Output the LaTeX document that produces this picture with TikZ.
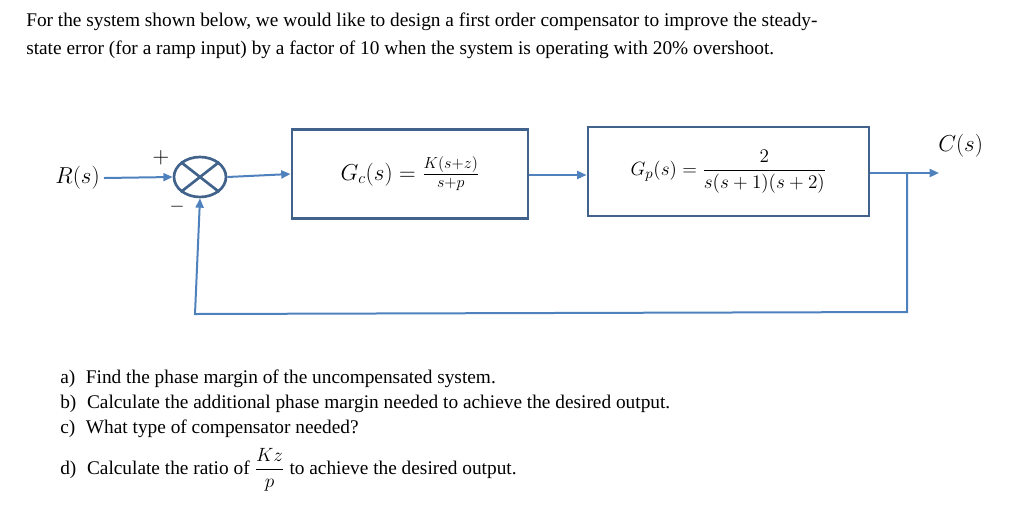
\documentclass[tikz,border=0pt]{standalone}
\usepackage{amsmath}
\usepackage{fontspec}
\setmainfont{Liberation Serif}
\usetikzlibrary{arrows.meta,shapes.geometric}
\definecolor{boxc}{HTML}{41628A}
\definecolor{linec}{HTML}{4F81BD}
\begin{document}
\begin{tikzpicture}[x=0.75pt,y=-0.75pt,
  blk/.style={draw=boxc,line width=2.2pt,inner sep=0pt},
  wire/.style={draw=linec,line width=1.5pt},
  arr/.style={wire,-{Triangle[length=7pt,width=6pt]}},
  txt/.style={anchor=west,inner sep=0pt,font=\fontsize{14.5}{16}\selectfont}]
\useasboundingbox (0,0) rectangle (1010,526);
\node[txt] (t1) at (26,22) {For the system shown below, we would like to design a first order compensator to improve the steady-};
\node[txt] (t2) at (26,50) {state error (for a ramp input) by a factor of 10 when the system is operating with 20\% overshoot.};
\node[anchor=east,inner sep=0pt,font=\fontsize{17}{18}\selectfont] (R) at (100,178) {$R(s)$};
\node[draw=boxc,line width=2pt,ellipse,minimum width=52pt*0.75,minimum height=40pt*0.75,inner sep=0pt] (S) at (200,177) {};
\draw[boxc,line width=2pt] (S.north west)--(S.south east) (S.north east)--(S.south west);
\node[font=\fontsize{16}{16}\selectfont,inner sep=0pt] (plus) at (161,158) {$+$};
\node[font=\fontsize{14}{14}\selectfont,inner sep=0pt] (minus) at (177,207) {$-$};
\node[blk,minimum width=236pt*0.75,minimum height=89pt*0.75] (Gc) at (410,174) {};
\node[font=\fontsize{17}{18}\selectfont] (Gct) at (Gc) {$G_c(s)=\frac{K(s+z)}{s+p}$};
\node[blk,minimum width=281pt*0.75,minimum height=89pt*0.75] (Gp) at (728.5,171.5) {};
\node[font=\fontsize{15}{18}\selectfont] (Gpt) at (Gp) {$G_p(s)=\dfrac{2}{s(s+1)(s+2)}$};
\node[anchor=west,inner sep=0pt,font=\fontsize{17}{18}\selectfont] (C) at (938,146) {$C(s)$};
\coordinate (o) at (939,173);
\coordinate (b) at (907,173);
\coordinate (b2) at (907,312);
\coordinate (b3) at (195,314);
\draw[arr] (R.east)+(4,0) -- (S.west);
\draw[arr] (S.east) -- (Gc.west);
\draw[arr] (Gc.east|-0,175) -- (Gp.west|-0,175);
\draw[arr] (Gp.east|-o) -- (o);
\draw[arr] (b) -- (b2) -- (b3) -- (S.south);
\node[txt] (qa) at (60,379) {a)\hspace{8pt}Find the phase margin of the uncompensated system.};
\node[txt] (qb) at (60,404) {b)\hspace{8pt}Calculate the additional phase margin needed to achieve the desired output.};
\node[txt] (qc) at (60,429) {c)\hspace{8pt}What type of compensator needed?};
\node[txt] (qd) at (60,470) {d)\hspace{8pt}Calculate the ratio of $\dfrac{Kz}{p}$ to achieve the desired output.};
\end{tikzpicture}
\end{document}
